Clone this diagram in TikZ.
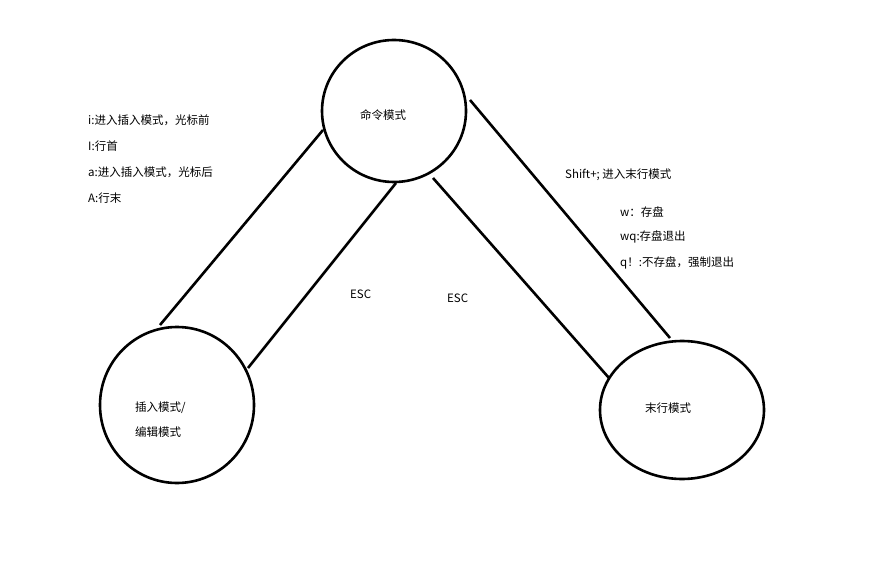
\documentclass[tikz,border=0pt]{standalone}
\usepackage{fontspec}
\setmainfont{Noto Sans CJK SC}
\begin{document}
\begin{tikzpicture}[x=1pt,y=-1pt,
  ln/.style={line width=2.6pt},
  lab/.style={anchor=west,inner sep=0pt,font=\fontsize{11.5}{13}\selectfont}]
\useasboundingbox[fill=white] (0,0) rectangle (882,577);
\draw[line width=2.6pt] (394,111) ellipse [x radius=72,y radius=71];
\draw[line width=2.6pt] (177,405) ellipse [x radius=77,y radius=78];
\draw[line width=2.6pt] (682,410) ellipse [x radius=82,y radius=69];
\node[lab] (t1) at (360,115) {命令模式};
\node[lab] (t2) at (135,408) {插入模式/};
\node[lab] (t3) at (135,432) {编辑模式};
\node[lab] (t4) at (645,408) {末行模式};
\coordinate (a1) at (323,130); \coordinate (a2) at (160,325);
\coordinate (b1) at (396,183); \coordinate (b2) at (248,368);
\coordinate (c1) at (433,178); \coordinate (c2) at (609,378);
\coordinate (d1) at (470,100); \coordinate (d2) at (670,338);
\draw[ln] (a1) -- (a2);
\draw[ln] (b1) -- (b2);
\draw[ln] (c1) -- (c2);
\draw[ln] (d1) -- (d2);
\node[lab] (l1) at (88,120) {i:进入插入模式，光标前};
\node[lab] (l2) at (88,146) {I:行首};
\node[lab] (l3) at (88,172) {a:进入插入模式，光标后};
\node[lab] (l4) at (88,198) {A:行末};
\node[lab] (e1) at (350,294) {ESC};
\node[lab] (e2) at (447,298) {ESC};
\node[lab] (r1) at (565,175) {Shift+;\ 进入末行模式};
\node[lab] (r2) at (620,212) {w：存盘};
\node[lab] (r3) at (620,237) {wq:存盘退出};
\node[lab] (r4) at (620,263) {q！:不存盘，强制退出};
\end{tikzpicture}
\end{document}
